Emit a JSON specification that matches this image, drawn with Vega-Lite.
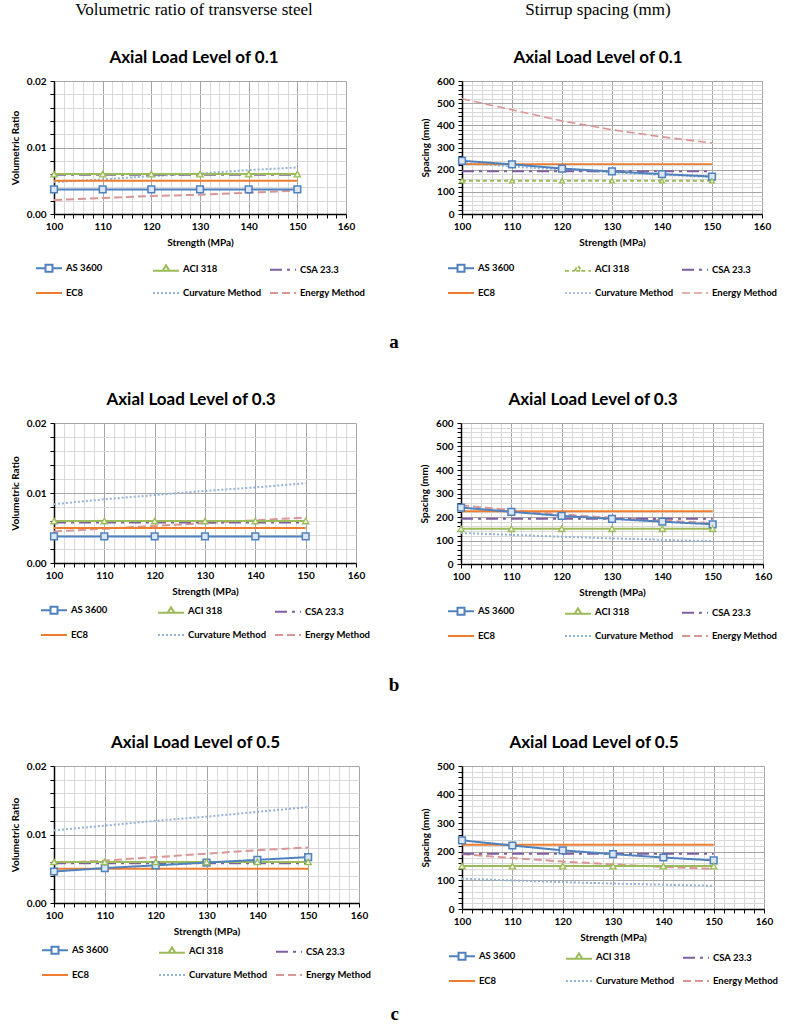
{
  "$schema": "https://vega.github.io/schema/vega-lite/v6.json",
  "padding": {"left": 10, "right": 1, "top": 1, "bottom": 0},
  "background": "white",
  "config": {
    "font": "Lato",
    "view": {"stroke": null},
    "axis": {"labelFont": "Lato", "labelFontSize": 10, "labelFontWeight": "bold", "labelColor": "#000", "titleFont": "Lato", "titleFontSize": 10, "titleFontWeight": "bold", "titleColor": "#000", "tickColor": "#000", "tickSize": 4, "domainColor": "#000", "domainWidth": 1.5, "labelOverlap": false, "labelFlush": false, "grid": true, "gridWidth": 1},
    "axisX": {"labelPadding": 3, "titlePadding": 6},
    "axisY": {"labelPadding": 4, "titlePadding": 6},
    "legend": {"orient": "bottom", "direction": "horizontal", "columns": 3, "gridAlign": "all", "symbolType": "stroke", "symbolSize": 676, "symbolStrokeWidth": 2.2, "labelFont": "Lato", "labelFontSize": 9.5, "labelFontWeight": "bold", "labelColor": "#000", "columnPadding": 4, "rowPadding": 3, "labelOffset": 3, "padding": 0, "labelLimit": 200, "layout": {"bottom": {"anchor": "middle"}}},
    "title": {"color": "#000"}
  },
  "datasets": {
    "a_vr": [
      {"series": "Energy Method", "strength": 100, "value": 0.0021}, {"series": "Energy Method", "strength": 110, "value": 0.0024}, {"series": "Energy Method", "strength": 120, "value": 0.0027}, {"series": "Energy Method", "strength": 130, "value": 0.0029}, {"series": "Energy Method", "strength": 140, "value": 0.0032}, {"series": "Energy Method", "strength": 150, "value": 0.0035},
      {"series": "Curvature Method", "strength": 100, "value": 0.0048}, {"series": "Curvature Method", "strength": 110, "value": 0.0052}, {"series": "Curvature Method", "strength": 120, "value": 0.0057}, {"series": "Curvature Method", "strength": 130, "value": 0.0061}, {"series": "Curvature Method", "strength": 140, "value": 0.0066}, {"series": "Curvature Method", "strength": 150, "value": 0.0070},
      {"series": "EC8", "strength": 100, "value": 0.0050}, {"series": "EC8", "strength": 110, "value": 0.0050}, {"series": "EC8", "strength": 120, "value": 0.0050}, {"series": "EC8", "strength": 130, "value": 0.0050}, {"series": "EC8", "strength": 140, "value": 0.0050}, {"series": "EC8", "strength": 150, "value": 0.0050},
      {"series": "CSA 23.3", "strength": 100, "value": 0.0059}, {"series": "CSA 23.3", "strength": 110, "value": 0.0059}, {"series": "CSA 23.3", "strength": 120, "value": 0.0059}, {"series": "CSA 23.3", "strength": 130, "value": 0.0059}, {"series": "CSA 23.3", "strength": 140, "value": 0.0059}, {"series": "CSA 23.3", "strength": 150, "value": 0.0059},
      {"series": "ACI 318", "strength": 100, "value": 0.0060}, {"series": "ACI 318", "strength": 110, "value": 0.0060}, {"series": "ACI 318", "strength": 120, "value": 0.0060}, {"series": "ACI 318", "strength": 130, "value": 0.0060}, {"series": "ACI 318", "strength": 140, "value": 0.0060}, {"series": "ACI 318", "strength": 150, "value": 0.0060},
      {"series": "AS 3600", "strength": 100, "value": 0.0037}, {"series": "AS 3600", "strength": 110, "value": 0.0037}, {"series": "AS 3600", "strength": 120, "value": 0.0037}, {"series": "AS 3600", "strength": 130, "value": 0.0037}, {"series": "AS 3600", "strength": 140, "value": 0.0037}, {"series": "AS 3600", "strength": 150, "value": 0.0037}
    ],
    "a_sp": [
      {"series": "Energy Method", "strength": 100, "value": 520}, {"series": "Energy Method", "strength": 110, "value": 470}, {"series": "Energy Method", "strength": 120, "value": 420}, {"series": "Energy Method", "strength": 130, "value": 380}, {"series": "Energy Method", "strength": 140, "value": 348}, {"series": "Energy Method", "strength": 150, "value": 320},
      {"series": "Curvature Method", "strength": 100, "value": 230}, {"series": "Curvature Method", "strength": 110, "value": 214}, {"series": "Curvature Method", "strength": 120, "value": 200}, {"series": "Curvature Method", "strength": 130, "value": 187}, {"series": "Curvature Method", "strength": 140, "value": 176}, {"series": "Curvature Method", "strength": 150, "value": 166},
      {"series": "EC8", "strength": 100, "value": 225}, {"series": "EC8", "strength": 110, "value": 225}, {"series": "EC8", "strength": 120, "value": 225}, {"series": "EC8", "strength": 130, "value": 225}, {"series": "EC8", "strength": 140, "value": 225}, {"series": "EC8", "strength": 150, "value": 225},
      {"series": "CSA 23.3", "strength": 100, "value": 193}, {"series": "CSA 23.3", "strength": 110, "value": 193}, {"series": "CSA 23.3", "strength": 120, "value": 193}, {"series": "CSA 23.3", "strength": 130, "value": 193}, {"series": "CSA 23.3", "strength": 140, "value": 193}, {"series": "CSA 23.3", "strength": 150, "value": 193},
      {"series": "ACI 318", "strength": 100, "value": 150}, {"series": "ACI 318", "strength": 110, "value": 150}, {"series": "ACI 318", "strength": 120, "value": 150}, {"series": "ACI 318", "strength": 130, "value": 150}, {"series": "ACI 318", "strength": 140, "value": 150}, {"series": "ACI 318", "strength": 150, "value": 150},
      {"series": "AS 3600", "strength": 100, "value": 240}, {"series": "AS 3600", "strength": 110, "value": 224}, {"series": "AS 3600", "strength": 120, "value": 205}, {"series": "AS 3600", "strength": 130, "value": 192}, {"series": "AS 3600", "strength": 140, "value": 180}, {"series": "AS 3600", "strength": 150, "value": 169}
    ],
    "b_vr": [
      {"series": "Energy Method", "strength": 100, "value": 0.0045}, {"series": "Energy Method", "strength": 110, "value": 0.0049}, {"series": "Energy Method", "strength": 120, "value": 0.0053}, {"series": "Energy Method", "strength": 130, "value": 0.0057}, {"series": "Energy Method", "strength": 140, "value": 0.0061}, {"series": "Energy Method", "strength": 150, "value": 0.0065},
      {"series": "Curvature Method", "strength": 100, "value": 0.0084}, {"series": "Curvature Method", "strength": 110, "value": 0.0091}, {"series": "Curvature Method", "strength": 120, "value": 0.0097}, {"series": "Curvature Method", "strength": 130, "value": 0.0103}, {"series": "Curvature Method", "strength": 140, "value": 0.0108}, {"series": "Curvature Method", "strength": 150, "value": 0.0114},
      {"series": "EC8", "strength": 100, "value": 0.0050}, {"series": "EC8", "strength": 110, "value": 0.0050}, {"series": "EC8", "strength": 120, "value": 0.0050}, {"series": "EC8", "strength": 130, "value": 0.0050}, {"series": "EC8", "strength": 140, "value": 0.0050}, {"series": "EC8", "strength": 150, "value": 0.0050},
      {"series": "CSA 23.3", "strength": 100, "value": 0.0058}, {"series": "CSA 23.3", "strength": 110, "value": 0.0058}, {"series": "CSA 23.3", "strength": 120, "value": 0.0058}, {"series": "CSA 23.3", "strength": 130, "value": 0.0058}, {"series": "CSA 23.3", "strength": 140, "value": 0.0058}, {"series": "CSA 23.3", "strength": 150, "value": 0.0058},
      {"series": "ACI 318", "strength": 100, "value": 0.0060}, {"series": "ACI 318", "strength": 110, "value": 0.0060}, {"series": "ACI 318", "strength": 120, "value": 0.0060}, {"series": "ACI 318", "strength": 130, "value": 0.0060}, {"series": "ACI 318", "strength": 140, "value": 0.0060}, {"series": "ACI 318", "strength": 150, "value": 0.0060},
      {"series": "AS 3600", "strength": 100, "value": 0.0038}, {"series": "AS 3600", "strength": 110, "value": 0.0038}, {"series": "AS 3600", "strength": 120, "value": 0.0038}, {"series": "AS 3600", "strength": 130, "value": 0.0038}, {"series": "AS 3600", "strength": 140, "value": 0.0038}, {"series": "AS 3600", "strength": 150, "value": 0.0038}
    ],
    "b_sp": [
      {"series": "Energy Method", "strength": 100, "value": 250}, {"series": "Energy Method", "strength": 110, "value": 229}, {"series": "Energy Method", "strength": 120, "value": 211}, {"series": "Energy Method", "strength": 130, "value": 197}, {"series": "Energy Method", "strength": 140, "value": 185}, {"series": "Energy Method", "strength": 150, "value": 174},
      {"series": "Curvature Method", "strength": 100, "value": 132}, {"series": "Curvature Method", "strength": 110, "value": 124}, {"series": "Curvature Method", "strength": 120, "value": 116}, {"series": "Curvature Method", "strength": 130, "value": 109}, {"series": "Curvature Method", "strength": 140, "value": 103}, {"series": "Curvature Method", "strength": 150, "value": 97},
      {"series": "EC8", "strength": 100, "value": 225}, {"series": "EC8", "strength": 110, "value": 225}, {"series": "EC8", "strength": 120, "value": 225}, {"series": "EC8", "strength": 130, "value": 225}, {"series": "EC8", "strength": 140, "value": 225}, {"series": "EC8", "strength": 150, "value": 225},
      {"series": "CSA 23.3", "strength": 100, "value": 193}, {"series": "CSA 23.3", "strength": 110, "value": 193}, {"series": "CSA 23.3", "strength": 120, "value": 193}, {"series": "CSA 23.3", "strength": 130, "value": 193}, {"series": "CSA 23.3", "strength": 140, "value": 193}, {"series": "CSA 23.3", "strength": 150, "value": 193},
      {"series": "ACI 318", "strength": 100, "value": 150}, {"series": "ACI 318", "strength": 110, "value": 150}, {"series": "ACI 318", "strength": 120, "value": 150}, {"series": "ACI 318", "strength": 130, "value": 150}, {"series": "ACI 318", "strength": 140, "value": 150}, {"series": "ACI 318", "strength": 150, "value": 150},
      {"series": "AS 3600", "strength": 100, "value": 240}, {"series": "AS 3600", "strength": 110, "value": 222}, {"series": "AS 3600", "strength": 120, "value": 205}, {"series": "AS 3600", "strength": 130, "value": 192}, {"series": "AS 3600", "strength": 140, "value": 180}, {"series": "AS 3600", "strength": 150, "value": 169}
    ],
    "c_vr": [
      {"series": "Energy Method", "strength": 100, "value": 0.0058}, {"series": "Energy Method", "strength": 110, "value": 0.0062}, {"series": "Energy Method", "strength": 120, "value": 0.0067}, {"series": "Energy Method", "strength": 130, "value": 0.0072}, {"series": "Energy Method", "strength": 140, "value": 0.0077}, {"series": "Energy Method", "strength": 150, "value": 0.0081},
      {"series": "Curvature Method", "strength": 100, "value": 0.0106}, {"series": "Curvature Method", "strength": 110, "value": 0.0113}, {"series": "Curvature Method", "strength": 120, "value": 0.0120}, {"series": "Curvature Method", "strength": 130, "value": 0.0126}, {"series": "Curvature Method", "strength": 140, "value": 0.0133}, {"series": "Curvature Method", "strength": 150, "value": 0.0140},
      {"series": "EC8", "strength": 100, "value": 0.0050}, {"series": "EC8", "strength": 110, "value": 0.0050}, {"series": "EC8", "strength": 120, "value": 0.0050}, {"series": "EC8", "strength": 130, "value": 0.0050}, {"series": "EC8", "strength": 140, "value": 0.0050}, {"series": "EC8", "strength": 150, "value": 0.0050},
      {"series": "CSA 23.3", "strength": 100, "value": 0.0058}, {"series": "CSA 23.3", "strength": 110, "value": 0.0058}, {"series": "CSA 23.3", "strength": 120, "value": 0.0058}, {"series": "CSA 23.3", "strength": 130, "value": 0.0058}, {"series": "CSA 23.3", "strength": 140, "value": 0.0058}, {"series": "CSA 23.3", "strength": 150, "value": 0.0058},
      {"series": "ACI 318", "strength": 100, "value": 0.0060}, {"series": "ACI 318", "strength": 110, "value": 0.0060}, {"series": "ACI 318", "strength": 120, "value": 0.0060}, {"series": "ACI 318", "strength": 130, "value": 0.0060}, {"series": "ACI 318", "strength": 140, "value": 0.0060}, {"series": "ACI 318", "strength": 150, "value": 0.0060},
      {"series": "AS 3600", "strength": 100, "value": 0.0046}, {"series": "AS 3600", "strength": 110, "value": 0.0051}, {"series": "AS 3600", "strength": 120, "value": 0.0055}, {"series": "AS 3600", "strength": 130, "value": 0.0059}, {"series": "AS 3600", "strength": 140, "value": 0.0063}, {"series": "AS 3600", "strength": 150, "value": 0.0067}
    ],
    "c_sp": [
      {"series": "Energy Method", "strength": 100, "value": 192}, {"series": "Energy Method", "strength": 110, "value": 178}, {"series": "Energy Method", "strength": 120, "value": 166}, {"series": "Energy Method", "strength": 130, "value": 156}, {"series": "Energy Method", "strength": 140, "value": 147}, {"series": "Energy Method", "strength": 150, "value": 140},
      {"series": "Curvature Method", "strength": 100, "value": 106}, {"series": "Curvature Method", "strength": 110, "value": 100}, {"series": "Curvature Method", "strength": 120, "value": 94}, {"series": "Curvature Method", "strength": 130, "value": 89}, {"series": "Curvature Method", "strength": 140, "value": 85}, {"series": "Curvature Method", "strength": 150, "value": 81},
      {"series": "EC8", "strength": 100, "value": 225}, {"series": "EC8", "strength": 110, "value": 225}, {"series": "EC8", "strength": 120, "value": 225}, {"series": "EC8", "strength": 130, "value": 225}, {"series": "EC8", "strength": 140, "value": 225}, {"series": "EC8", "strength": 150, "value": 225},
      {"series": "CSA 23.3", "strength": 100, "value": 193}, {"series": "CSA 23.3", "strength": 110, "value": 193}, {"series": "CSA 23.3", "strength": 120, "value": 193}, {"series": "CSA 23.3", "strength": 130, "value": 193}, {"series": "CSA 23.3", "strength": 140, "value": 193}, {"series": "CSA 23.3", "strength": 150, "value": 193},
      {"series": "ACI 318", "strength": 100, "value": 150}, {"series": "ACI 318", "strength": 110, "value": 150}, {"series": "ACI 318", "strength": 120, "value": 150}, {"series": "ACI 318", "strength": 130, "value": 150}, {"series": "ACI 318", "strength": 140, "value": 150}, {"series": "ACI 318", "strength": 150, "value": 150},
      {"series": "AS 3600", "strength": 100, "value": 240}, {"series": "AS 3600", "strength": 110, "value": 222}, {"series": "AS 3600", "strength": 120, "value": 205}, {"series": "AS 3600", "strength": 130, "value": 192}, {"series": "AS 3600", "strength": 140, "value": 180}, {"series": "AS 3600", "strength": 150, "value": 170}
    ]
  },
  "resolve": {"scale": {"x": "independent", "y": "independent", "color": "independent", "strokeDash": "independent", "strokeWidth": "independent"}},
  "spacing": 39,
  "vconcat": [
    {
      "title": {"text": "a", "orient": "bottom", "anchor": "middle", "font": "Liberation Serif", "fontSize": 19, "fontWeight": "bold", "color": "#000", "offset": 35},
      "spacing": 54,
      "resolve": {"scale": {"x": "independent", "y": "independent", "color": "independent", "strokeDash": "independent", "strokeWidth": "independent"}},
      "hconcat": [
        {
          "width": 292, "height": 133,
          "title": {"text": "Volumetric ratio of transverse steel", "subtitle": "Axial Load Level of 0.1", "font": "Liberation Serif", "fontSize": 17, "fontWeight": "normal", "subtitleFont": "Lato", "subtitleFontSize": 17, "subtitleFontWeight": "bold", "subtitleColor": "#000", "subtitlePadding": 31, "offset": 9, "dx": -6},
          "data": {"name": "a_vr"},
          "encoding": {
            "x": {"field": "strength", "type": "quantitative", "scale": {"domain": [100, 160], "nice": false, "zero": false}, "axis": {"title": "Strength (MPa)", "values": [100,102,104,106,108,110,112,114,116,118,120,122,124,126,128,130,132,134,136,138,140,142,144,146,148,150,152,154,156,158,160], "labelExpr": "datum.value % 10 === 0 ? datum.label : ''", "gridColor": {"condition": {"test": "datum.value % 10 === 0", "value": "#a6a6a6"}, "value": "#d9d9d9"}}},
            "y": {"field": "value", "type": "quantitative", "scale": {"domain": [0, 0.02], "nice": false}, "axis": {"title": "Volumetric Ratio", "values": [0,0.002,0.004,0.006,0.008,0.01,0.012,0.014,0.016,0.018,0.02], "format": ".2f", "labelExpr": "abs(datum.value * 100 - round(datum.value * 100)) < 0.000001 ? datum.label : ''", "gridColor": {"condition": {"test": "abs(datum.value * 100 - round(datum.value * 100)) < 0.000001", "value": "#a6a6a6"}, "value": "#d9d9d9"}}}
          },
          "layer": [
            {
              "mark": {"type": "line"},
              "encoding": {
                "color": {
                  "field": "series", "type": "nominal",
                  "scale": {"domain": ["AS 3600", "ACI 318", "CSA 23.3", "EC8", "Curvature Method", "Energy Method"], "range": ["#4F81BD", "#9BBB59", "#7F5FA0", "#ED7D31", "#95B3D7", "#DA9694"]},
                  "legend": {
                    "title": null, "offset": 7,
                    "encode": {"symbols": {"update": {"shape": {"signal": "datum.value === 'AS 3600' ? 'M-1,0H-0.27M0.27,0H1M-0.27,-0.27H0.27V0.27H-0.27Z' : (datum.value === 'ACI 318' ? 'M-1,0.12H-0.26M0.26,0.12H1M-0.26,0.12L0,-0.3L0.26,0.12Z' : 'stroke')"}}}}
                  }
                },
                "strokeDash": {"field": "series", "type": "nominal", "scale": {"domain": ["AS 3600", "ACI 318", "CSA 23.3", "EC8", "Curvature Method", "Energy Method"], "range": [[1,0],[1,0],[12,5,3,5],[1,0],[2,2],[8,4]]}, "legend": {"title": null}},
                "strokeWidth": {"field": "series", "type": "nominal", "scale": {"domain": ["AS 3600", "ACI 318", "CSA 23.3", "EC8", "Curvature Method", "Energy Method"], "range": [2, 2, 3, 2.5, 2, 2.5]}, "legend": null}
              }
            },
            {"transform": [{"filter": "datum.series === 'AS 3600'"}], "mark": {"type": "point", "shape": "square", "size": 45, "filled": true, "fill": "#dce6f2", "stroke": "#4F81BD", "strokeWidth": 1.5, "opacity": 1}},
            {"transform": [{"filter": "datum.series === 'ACI 318'"}], "mark": {"type": "point", "shape": "triangle-up", "size": 40, "filled": true, "fill": "#ebf1de", "stroke": "#9BBB59", "strokeWidth": 1.3, "opacity": 1}},
            {"data": {"values": [{"k": 1}]}, "mark": {"type": "point", "shape": "triangle-up", "size": 28, "filled": true, "color": "#000", "opacity": 1, "yOffset": 3}, "encoding": {"x": {"datum": 100, "type": "quantitative"}, "y": {"datum": 0.02, "type": "quantitative"}}},
            {"data": {"values": [{"k": 1}]}, "mark": {"type": "point", "shape": "triangle-right", "size": 28, "filled": true, "color": "#000", "opacity": 1, "xOffset": -3}, "encoding": {"x": {"datum": 160, "type": "quantitative"}, "y": {"datum": 0, "type": "quantitative"}}}
          ]
        },
        {
          "width": 300, "height": 133,
          "title": {"text": "Stirrup spacing (mm)", "subtitle": "Axial Load Level of 0.1", "font": "Liberation Serif", "fontSize": 17, "fontWeight": "normal", "subtitleFont": "Lato", "subtitleFontSize": 17, "subtitleFontWeight": "bold", "subtitleColor": "#000", "subtitlePadding": 31, "offset": 9, "dx": -14},
          "data": {"name": "a_sp"},
          "encoding": {
            "x": {"field": "strength", "type": "quantitative", "scale": {"domain": [100, 160], "nice": false, "zero": false}, "axis": {"title": "Strength (MPa)", "values": [100,102,104,106,108,110,112,114,116,118,120,122,124,126,128,130,132,134,136,138,140,142,144,146,148,150,152,154,156,158,160], "labelExpr": "datum.value % 10 === 0 ? datum.label : ''", "gridColor": {"condition": {"test": "datum.value % 10 === 0", "value": "#a6a6a6"}, "value": "#d9d9d9"}}},
            "y": {"field": "value", "type": "quantitative", "scale": {"domain": [0, 600], "nice": false}, "axis": {"title": "Spacing (mm)", "values": [0,20,40,60,80,100,120,140,160,180,200,220,240,260,280,300,320,340,360,380,400,420,440,460,480,500,520,540,560,580,600], "labelExpr": "datum.value % 100 === 0 ? datum.label : ''", "gridColor": {"condition": {"test": "datum.value % 100 === 0", "value": "#a6a6a6"}, "value": "#d9d9d9"}}}
          },
          "layer": [
            {
              "mark": {"type": "line"},
              "encoding": {
                "color": {
                  "field": "series", "type": "nominal",
                  "scale": {"domain": ["AS 3600", "ACI 318", "CSA 23.3", "EC8", "Curvature Method", "Energy Method"], "range": ["#4F81BD", "#9BBB59", "#7F5FA0", "#ED7D31", "#95B3D7", "#DA9694"]},
                  "legend": {
                    "title": null, "offset": 7,
                    "encode": {"symbols": {"update": {"shape": {"signal": "datum.value === 'AS 3600' ? 'M-1,0H-0.27M0.27,0H1M-0.27,-0.27H0.27V0.27H-0.27Z' : (datum.value === 'ACI 318' ? 'M-1,0.12H-0.26M0.26,0.12H1M-0.26,0.12L0,-0.3L0.26,0.12Z' : 'stroke')"}}}}
                  }
                },
                "strokeDash": {"field": "series", "type": "nominal", "scale": {"domain": ["AS 3600", "ACI 318", "CSA 23.3", "EC8", "Curvature Method", "Energy Method"], "range": [[1,0],[4,3],[12,5,3,5],[1,0],[2,2],[8,4]]}, "legend": {"title": null}},
                "strokeWidth": {"field": "series", "type": "nominal", "scale": {"domain": ["AS 3600", "ACI 318", "CSA 23.3", "EC8", "Curvature Method", "Energy Method"], "range": [2, 1.6, 3, 2.5, 2, 2.5]}, "legend": null}
              }
            },
            {"transform": [{"filter": "datum.series === 'AS 3600'"}], "mark": {"type": "point", "shape": "square", "size": 45, "filled": true, "fill": "#dce6f2", "stroke": "#4F81BD", "strokeWidth": 1.5, "opacity": 1}},
            {"transform": [{"filter": "datum.series === 'ACI 318'"}], "mark": {"type": "point", "shape": "triangle-up", "size": 25, "filled": true, "fill": "#ebf1de", "stroke": "#9BBB59", "strokeWidth": 1.2, "opacity": 1}},
            {"data": {"values": [{"k": 1}]}, "mark": {"type": "point", "shape": "triangle-up", "size": 28, "filled": true, "color": "#000", "opacity": 1, "yOffset": 3}, "encoding": {"x": {"datum": 100, "type": "quantitative"}, "y": {"datum": 600, "type": "quantitative"}}},
            {"data": {"values": [{"k": 1}]}, "mark": {"type": "point", "shape": "triangle-right", "size": 28, "filled": true, "color": "#000", "opacity": 1, "xOffset": -3}, "encoding": {"x": {"datum": 160, "type": "quantitative"}, "y": {"datum": 0, "type": "quantitative"}}}
          ]
        }
      ]
    },
    {
      "title": {"text": "b", "orient": "bottom", "anchor": "middle", "font": "Liberation Serif", "fontSize": 19, "fontWeight": "bold", "color": "#000", "offset": 35},
      "spacing": 48,
      "resolve": {"scale": {"x": "independent", "y": "independent", "color": "independent", "strokeDash": "independent", "strokeWidth": "independent"}},
      "hconcat": [
        {
          "width": 302, "height": 140,
          "title": {"text": "Axial Load Level of 0.3", "font": "Lato", "fontSize": 17, "fontWeight": "bold", "offset": 9, "dx": -14},
          "data": {"name": "b_vr"},
          "encoding": {
            "x": {"field": "strength", "type": "quantitative", "scale": {"domain": [100, 160], "nice": false, "zero": false}, "axis": {"title": "Strength (MPa)", "values": [100,102,104,106,108,110,112,114,116,118,120,122,124,126,128,130,132,134,136,138,140,142,144,146,148,150,152,154,156,158,160], "labelExpr": "datum.value % 10 === 0 ? datum.label : ''", "gridColor": {"condition": {"test": "datum.value % 10 === 0", "value": "#a6a6a6"}, "value": "#d9d9d9"}}},
            "y": {"field": "value", "type": "quantitative", "scale": {"domain": [0, 0.02], "nice": false}, "axis": {"title": "Volumetric Ratio", "values": [0,0.002,0.004,0.006,0.008,0.01,0.012,0.014,0.016,0.018,0.02], "format": ".2f", "labelExpr": "abs(datum.value * 100 - round(datum.value * 100)) < 0.000001 ? datum.label : ''", "gridColor": {"condition": {"test": "abs(datum.value * 100 - round(datum.value * 100)) < 0.000001", "value": "#a6a6a6"}, "value": "#d9d9d9"}}}
          },
          "layer": [
            {
              "mark": {"type": "line"},
              "encoding": {
                "color": {
                  "field": "series", "type": "nominal",
                  "scale": {"domain": ["AS 3600", "ACI 318", "CSA 23.3", "EC8", "Curvature Method", "Energy Method"], "range": ["#4F81BD", "#9BBB59", "#7F5FA0", "#ED7D31", "#95B3D7", "#DA9694"]},
                  "legend": {
                    "title": null, "offset": 0,
                    "encode": {"symbols": {"update": {"shape": {"signal": "datum.value === 'AS 3600' ? 'M-1,0H-0.27M0.27,0H1M-0.27,-0.27H0.27V0.27H-0.27Z' : (datum.value === 'ACI 318' ? 'M-1,0.12H-0.26M0.26,0.12H1M-0.26,0.12L0,-0.3L0.26,0.12Z' : 'stroke')"}}}}
                  }
                },
                "strokeDash": {"field": "series", "type": "nominal", "scale": {"domain": ["AS 3600", "ACI 318", "CSA 23.3", "EC8", "Curvature Method", "Energy Method"], "range": [[1,0],[1,0],[12,5,3,5],[1,0],[2,2],[8,4]]}, "legend": {"title": null}},
                "strokeWidth": {"field": "series", "type": "nominal", "scale": {"domain": ["AS 3600", "ACI 318", "CSA 23.3", "EC8", "Curvature Method", "Energy Method"], "range": [2, 2, 3, 2.5, 2, 2.5]}, "legend": null}
              }
            },
            {"transform": [{"filter": "datum.series === 'AS 3600'"}], "mark": {"type": "point", "shape": "square", "size": 45, "filled": true, "fill": "#dce6f2", "stroke": "#4F81BD", "strokeWidth": 1.5, "opacity": 1}},
            {"transform": [{"filter": "datum.series === 'ACI 318'"}], "mark": {"type": "point", "shape": "triangle-up", "size": 40, "filled": true, "fill": "#ebf1de", "stroke": "#9BBB59", "strokeWidth": 1.3, "opacity": 1}},
            {"data": {"values": [{"k": 1}]}, "mark": {"type": "point", "shape": "triangle-up", "size": 28, "filled": true, "color": "#000", "opacity": 1, "yOffset": 3}, "encoding": {"x": {"datum": 100, "type": "quantitative"}, "y": {"datum": 0.02, "type": "quantitative"}}},
            {"data": {"values": [{"k": 1}]}, "mark": {"type": "point", "shape": "triangle-right", "size": 28, "filled": true, "color": "#000", "opacity": 1, "xOffset": -3}, "encoding": {"x": {"datum": 160, "type": "quantitative"}, "y": {"datum": 0, "type": "quantitative"}}}
          ]
        },
        {
          "width": 302, "height": 141,
          "title": {"text": "Axial Load Level of 0.3", "font": "Lato", "fontSize": 17, "fontWeight": "bold", "offset": 9, "dx": -19},
          "data": {"name": "b_sp"},
          "encoding": {
            "x": {"field": "strength", "type": "quantitative", "scale": {"domain": [100, 160], "nice": false, "zero": false}, "axis": {"title": "Strength (MPa)", "values": [100,102,104,106,108,110,112,114,116,118,120,122,124,126,128,130,132,134,136,138,140,142,144,146,148,150,152,154,156,158,160], "labelExpr": "datum.value % 10 === 0 ? datum.label : ''", "gridColor": {"condition": {"test": "datum.value % 10 === 0", "value": "#a6a6a6"}, "value": "#d9d9d9"}}},
            "y": {"field": "value", "type": "quantitative", "scale": {"domain": [0, 600], "nice": false}, "axis": {"title": "Spacing (mm)", "values": [0,20,40,60,80,100,120,140,160,180,200,220,240,260,280,300,320,340,360,380,400,420,440,460,480,500,520,540,560,580,600], "labelExpr": "datum.value % 100 === 0 ? datum.label : ''", "gridColor": {"condition": {"test": "datum.value % 100 === 0", "value": "#a6a6a6"}, "value": "#d9d9d9"}}}
          },
          "layer": [
            {
              "mark": {"type": "line"},
              "encoding": {
                "color": {
                  "field": "series", "type": "nominal",
                  "scale": {"domain": ["AS 3600", "ACI 318", "CSA 23.3", "EC8", "Curvature Method", "Energy Method"], "range": ["#4F81BD", "#9BBB59", "#7F5FA0", "#ED7D31", "#95B3D7", "#DA9694"]},
                  "legend": {
                    "title": null, "offset": 0,
                    "encode": {"symbols": {"update": {"shape": {"signal": "datum.value === 'AS 3600' ? 'M-1,0H-0.27M0.27,0H1M-0.27,-0.27H0.27V0.27H-0.27Z' : (datum.value === 'ACI 318' ? 'M-1,0.12H-0.26M0.26,0.12H1M-0.26,0.12L0,-0.3L0.26,0.12Z' : 'stroke')"}}}}
                  }
                },
                "strokeDash": {"field": "series", "type": "nominal", "scale": {"domain": ["AS 3600", "ACI 318", "CSA 23.3", "EC8", "Curvature Method", "Energy Method"], "range": [[1,0],[1,0],[12,5,3,5],[1,0],[2,2],[8,4]]}, "legend": {"title": null}},
                "strokeWidth": {"field": "series", "type": "nominal", "scale": {"domain": ["AS 3600", "ACI 318", "CSA 23.3", "EC8", "Curvature Method", "Energy Method"], "range": [2, 2, 3, 2.5, 2, 2.5]}, "legend": null}
              }
            },
            {"transform": [{"filter": "datum.series === 'AS 3600'"}], "mark": {"type": "point", "shape": "square", "size": 45, "filled": true, "fill": "#dce6f2", "stroke": "#4F81BD", "strokeWidth": 1.5, "opacity": 1}},
            {"transform": [{"filter": "datum.series === 'ACI 318'"}], "mark": {"type": "point", "shape": "triangle-up", "size": 40, "filled": true, "fill": "#ebf1de", "stroke": "#9BBB59", "strokeWidth": 1.3, "opacity": 1}},
            {"data": {"values": [{"k": 1}]}, "mark": {"type": "point", "shape": "triangle-up", "size": 28, "filled": true, "color": "#000", "opacity": 1, "yOffset": 3}, "encoding": {"x": {"datum": 100, "type": "quantitative"}, "y": {"datum": 600, "type": "quantitative"}}},
            {"data": {"values": [{"k": 1}]}, "mark": {"type": "point", "shape": "triangle-right", "size": 28, "filled": true, "color": "#000", "opacity": 1, "xOffset": -3}, "encoding": {"x": {"datum": 160, "type": "quantitative"}, "y": {"datum": 0, "type": "quantitative"}}}
          ]
        }
      ]
    },
    {
      "title": {"text": "c", "orient": "bottom", "anchor": "middle", "font": "Liberation Serif", "fontSize": 19, "fontWeight": "bold", "color": "#000", "offset": 19},
      "spacing": 48,
      "resolve": {"scale": {"x": "independent", "y": "independent", "color": "independent", "strokeDash": "independent", "strokeWidth": "independent"}},
      "hconcat": [
        {
          "width": 305, "height": 137,
          "title": {"text": "Axial Load Level of 0.5", "font": "Lato", "fontSize": 17, "fontWeight": "bold", "offset": 9, "dx": -11},
          "data": {"name": "c_vr"},
          "encoding": {
            "x": {"field": "strength", "type": "quantitative", "scale": {"domain": [100, 160], "nice": false, "zero": false}, "axis": {"title": "Strength (MPa)", "values": [100,102,104,106,108,110,112,114,116,118,120,122,124,126,128,130,132,134,136,138,140,142,144,146,148,150,152,154,156,158,160], "labelExpr": "datum.value % 10 === 0 ? datum.label : ''", "gridColor": {"condition": {"test": "datum.value % 10 === 0", "value": "#a6a6a6"}, "value": "#d9d9d9"}}},
            "y": {"field": "value", "type": "quantitative", "scale": {"domain": [0, 0.02], "nice": false}, "axis": {"title": "Volumetric Ratio", "values": [0,0.002,0.004,0.006,0.008,0.01,0.012,0.014,0.016,0.018,0.02], "format": ".2f", "labelExpr": "abs(datum.value * 100 - round(datum.value * 100)) < 0.000001 ? datum.label : ''", "gridColor": {"condition": {"test": "abs(datum.value * 100 - round(datum.value * 100)) < 0.000001", "value": "#a6a6a6"}, "value": "#d9d9d9"}}}
          },
          "layer": [
            {
              "mark": {"type": "line"},
              "encoding": {
                "color": {
                  "field": "series", "type": "nominal",
                  "scale": {"domain": ["AS 3600", "ACI 318", "CSA 23.3", "EC8", "Curvature Method", "Energy Method"], "range": ["#4F81BD", "#9BBB59", "#7F5FA0", "#ED7D31", "#95B3D7", "#DA9694"]},
                  "legend": {
                    "title": null, "offset": 0,
                    "encode": {"symbols": {"update": {"shape": {"signal": "datum.value === 'AS 3600' ? 'M-1,0H-0.27M0.27,0H1M-0.27,-0.27H0.27V0.27H-0.27Z' : (datum.value === 'ACI 318' ? 'M-1,0.12H-0.26M0.26,0.12H1M-0.26,0.12L0,-0.3L0.26,0.12Z' : 'stroke')"}}}}
                  }
                },
                "strokeDash": {"field": "series", "type": "nominal", "scale": {"domain": ["AS 3600", "ACI 318", "CSA 23.3", "EC8", "Curvature Method", "Energy Method"], "range": [[1,0],[1,0],[12,5,3,5],[1,0],[2,2],[8,4]]}, "legend": {"title": null}},
                "strokeWidth": {"field": "series", "type": "nominal", "scale": {"domain": ["AS 3600", "ACI 318", "CSA 23.3", "EC8", "Curvature Method", "Energy Method"], "range": [2, 2, 3, 2.5, 2, 2.5]}, "legend": null}
              }
            },
            {"transform": [{"filter": "datum.series === 'AS 3600'"}], "mark": {"type": "point", "shape": "square", "size": 45, "filled": true, "fill": "#dce6f2", "stroke": "#4F81BD", "strokeWidth": 1.5, "opacity": 1}},
            {"transform": [{"filter": "datum.series === 'ACI 318'"}], "mark": {"type": "point", "shape": "triangle-up", "size": 40, "filled": true, "fill": "#ebf1de", "stroke": "#9BBB59", "strokeWidth": 1.3, "opacity": 1}},
            {"data": {"values": [{"k": 1}]}, "mark": {"type": "point", "shape": "triangle-up", "size": 28, "filled": true, "color": "#000", "opacity": 1, "yOffset": 3}, "encoding": {"x": {"datum": 100, "type": "quantitative"}, "y": {"datum": 0.02, "type": "quantitative"}}},
            {"data": {"values": [{"k": 1}]}, "mark": {"type": "point", "shape": "triangle-right", "size": 28, "filled": true, "color": "#000", "opacity": 1, "xOffset": -3}, "encoding": {"x": {"datum": 160, "type": "quantitative"}, "y": {"datum": 0, "type": "quantitative"}}}
          ]
        },
        {
          "width": 302, "height": 143,
          "title": {"text": "Axial Load Level of 0.5", "font": "Lato", "fontSize": 17, "fontWeight": "bold", "offset": 9, "dx": -19},
          "data": {"name": "c_sp"},
          "encoding": {
            "x": {"field": "strength", "type": "quantitative", "scale": {"domain": [100, 160], "nice": false, "zero": false}, "axis": {"title": "Strength (MPa)", "values": [100,102,104,106,108,110,112,114,116,118,120,122,124,126,128,130,132,134,136,138,140,142,144,146,148,150,152,154,156,158,160], "labelExpr": "datum.value % 10 === 0 ? datum.label : ''", "gridColor": {"condition": {"test": "datum.value % 10 === 0", "value": "#a6a6a6"}, "value": "#d9d9d9"}}},
            "y": {"field": "value", "type": "quantitative", "scale": {"domain": [0, 500], "nice": false}, "axis": {"title": "Spacing (mm)", "values": [0,20,40,60,80,100,120,140,160,180,200,220,240,260,280,300,320,340,360,380,400,420,440,460,480,500], "labelExpr": "datum.value % 100 === 0 ? datum.label : ''", "gridColor": {"condition": {"test": "datum.value % 100 === 0", "value": "#a6a6a6"}, "value": "#d9d9d9"}}}
          },
          "layer": [
            {
              "mark": {"type": "line"},
              "encoding": {
                "color": {
                  "field": "series", "type": "nominal",
                  "scale": {"domain": ["AS 3600", "ACI 318", "CSA 23.3", "EC8", "Curvature Method", "Energy Method"], "range": ["#4F81BD", "#9BBB59", "#7F5FA0", "#ED7D31", "#95B3D7", "#DA9694"]},
                  "legend": {
                    "title": null, "offset": 0,
                    "encode": {"symbols": {"update": {"shape": {"signal": "datum.value === 'AS 3600' ? 'M-1,0H-0.27M0.27,0H1M-0.27,-0.27H0.27V0.27H-0.27Z' : (datum.value === 'ACI 318' ? 'M-1,0.12H-0.26M0.26,0.12H1M-0.26,0.12L0,-0.3L0.26,0.12Z' : 'stroke')"}}}}
                  }
                },
                "strokeDash": {"field": "series", "type": "nominal", "scale": {"domain": ["AS 3600", "ACI 318", "CSA 23.3", "EC8", "Curvature Method", "Energy Method"], "range": [[1,0],[1,0],[12,5,3,5],[1,0],[2,2],[8,4]]}, "legend": {"title": null}},
                "strokeWidth": {"field": "series", "type": "nominal", "scale": {"domain": ["AS 3600", "ACI 318", "CSA 23.3", "EC8", "Curvature Method", "Energy Method"], "range": [2, 2, 3, 2.5, 2, 2.5]}, "legend": null}
              }
            },
            {"transform": [{"filter": "datum.series === 'AS 3600'"}], "mark": {"type": "point", "shape": "square", "size": 45, "filled": true, "fill": "#dce6f2", "stroke": "#4F81BD", "strokeWidth": 1.5, "opacity": 1}},
            {"transform": [{"filter": "datum.series === 'ACI 318'"}], "mark": {"type": "point", "shape": "triangle-up", "size": 40, "filled": true, "fill": "#ebf1de", "stroke": "#9BBB59", "strokeWidth": 1.3, "opacity": 1}},
            {"data": {"values": [{"k": 1}]}, "mark": {"type": "point", "shape": "triangle-up", "size": 28, "filled": true, "color": "#000", "opacity": 1, "yOffset": 3}, "encoding": {"x": {"datum": 100, "type": "quantitative"}, "y": {"datum": 500, "type": "quantitative"}}},
            {"data": {"values": [{"k": 1}]}, "mark": {"type": "point", "shape": "triangle-right", "size": 28, "filled": true, "color": "#000", "opacity": 1, "xOffset": -3}, "encoding": {"x": {"datum": 160, "type": "quantitative"}, "y": {"datum": 0, "type": "quantitative"}}}
          ]
        }
      ]
    }
  ]
}
